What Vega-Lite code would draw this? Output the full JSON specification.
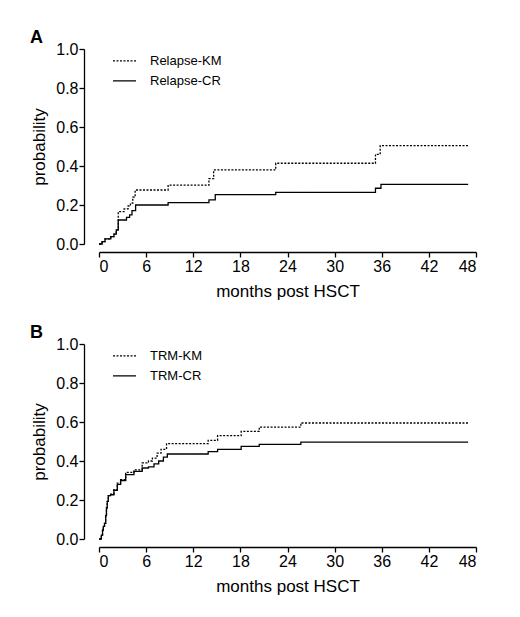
{
  "$schema": "https://vega.github.io/schema/vega-lite/v6.json",
  "background": "white",
  "padding": {"left": 30, "top": 29, "right": 5, "bottom": 5},
  "spacing": 25,
  "datasets": {
    "relapse": [
      {"month": 0, "prob": 0, "curve": "Relapse-KM"},
      {"month": 0.4, "prob": 0.012, "curve": "Relapse-KM"},
      {"month": 0.76, "prob": 0.026, "curve": "Relapse-KM"},
      {"month": 1.5, "prob": 0.038, "curve": "Relapse-KM"},
      {"month": 1.9, "prob": 0.051, "curve": "Relapse-KM"},
      {"month": 2.2, "prob": 0.072, "curve": "Relapse-KM"},
      {"month": 2.45, "prob": 0.166, "curve": "Relapse-KM"},
      {"month": 3.2, "prob": 0.18, "curve": "Relapse-KM"},
      {"month": 3.7, "prob": 0.195, "curve": "Relapse-KM"},
      {"month": 4.0, "prob": 0.21, "curve": "Relapse-KM"},
      {"month": 4.3, "prob": 0.24, "curve": "Relapse-KM"},
      {"month": 4.6, "prob": 0.277, "curve": "Relapse-KM"},
      {"month": 8.8, "prob": 0.302, "curve": "Relapse-KM"},
      {"month": 14.0, "prob": 0.335, "curve": "Relapse-KM"},
      {"month": 14.6, "prob": 0.38, "curve": "Relapse-KM"},
      {"month": 22.5, "prob": 0.414, "curve": "Relapse-KM"},
      {"month": 35.2, "prob": 0.46, "curve": "Relapse-KM"},
      {"month": 35.8, "prob": 0.505, "curve": "Relapse-KM"},
      {"month": 47, "prob": 0.505, "curve": "Relapse-KM"},
      {"month": 0, "prob": 0, "curve": "Relapse-CR"},
      {"month": 0.4, "prob": 0.012, "curve": "Relapse-CR"},
      {"month": 0.76, "prob": 0.026, "curve": "Relapse-CR"},
      {"month": 1.5, "prob": 0.038, "curve": "Relapse-CR"},
      {"month": 1.9, "prob": 0.051, "curve": "Relapse-CR"},
      {"month": 2.2, "prob": 0.072, "curve": "Relapse-CR"},
      {"month": 2.45, "prob": 0.123, "curve": "Relapse-CR"},
      {"month": 3.5, "prob": 0.137, "curve": "Relapse-CR"},
      {"month": 3.9, "prob": 0.149, "curve": "Relapse-CR"},
      {"month": 4.2, "prob": 0.171, "curve": "Relapse-CR"},
      {"month": 4.66, "prob": 0.2, "curve": "Relapse-CR"},
      {"month": 8.8, "prob": 0.212, "curve": "Relapse-CR"},
      {"month": 14.0, "prob": 0.226, "curve": "Relapse-CR"},
      {"month": 14.8, "prob": 0.253, "curve": "Relapse-CR"},
      {"month": 22.5, "prob": 0.265, "curve": "Relapse-CR"},
      {"month": 35.2, "prob": 0.286, "curve": "Relapse-CR"},
      {"month": 35.9, "prob": 0.306, "curve": "Relapse-CR"},
      {"month": 47, "prob": 0.306, "curve": "Relapse-CR"}
    ],
    "trm": [
      {"month": 0, "prob": 0, "curve": "TRM-KM"},
      {"month": 0.3, "prob": 0.02, "curve": "TRM-KM"},
      {"month": 0.45, "prob": 0.045, "curve": "TRM-KM"},
      {"month": 0.55, "prob": 0.065, "curve": "TRM-KM"},
      {"month": 0.7, "prob": 0.08, "curve": "TRM-KM"},
      {"month": 0.85, "prob": 0.12, "curve": "TRM-KM"},
      {"month": 0.95, "prob": 0.16, "curve": "TRM-KM"},
      {"month": 1.05, "prob": 0.193, "curve": "TRM-KM"},
      {"month": 1.18, "prob": 0.222, "curve": "TRM-KM"},
      {"month": 1.48, "prob": 0.23, "curve": "TRM-KM"},
      {"month": 1.9, "prob": 0.253, "curve": "TRM-KM"},
      {"month": 2.33, "prob": 0.287, "curve": "TRM-KM"},
      {"month": 2.75, "prob": 0.304, "curve": "TRM-KM"},
      {"month": 3.4, "prob": 0.342, "curve": "TRM-KM"},
      {"month": 4.45, "prob": 0.355, "curve": "TRM-KM"},
      {"month": 5.5, "prob": 0.39, "curve": "TRM-KM"},
      {"month": 6.3, "prob": 0.4, "curve": "TRM-KM"},
      {"month": 6.8, "prob": 0.415, "curve": "TRM-KM"},
      {"month": 7.4, "prob": 0.44, "curve": "TRM-KM"},
      {"month": 7.9, "prob": 0.46, "curve": "TRM-KM"},
      {"month": 8.6, "prob": 0.489, "curve": "TRM-KM"},
      {"month": 13.9, "prob": 0.506, "curve": "TRM-KM"},
      {"month": 15.1, "prob": 0.53, "curve": "TRM-KM"},
      {"month": 18.1, "prob": 0.552, "curve": "TRM-KM"},
      {"month": 20.4, "prob": 0.574, "curve": "TRM-KM"},
      {"month": 25.7, "prob": 0.595, "curve": "TRM-KM"},
      {"month": 47, "prob": 0.595, "curve": "TRM-KM"},
      {"month": 0, "prob": 0, "curve": "TRM-CR"},
      {"month": 0.3, "prob": 0.02, "curve": "TRM-CR"},
      {"month": 0.45, "prob": 0.045, "curve": "TRM-CR"},
      {"month": 0.55, "prob": 0.065, "curve": "TRM-CR"},
      {"month": 0.7, "prob": 0.08, "curve": "TRM-CR"},
      {"month": 0.85, "prob": 0.12, "curve": "TRM-CR"},
      {"month": 0.95, "prob": 0.16, "curve": "TRM-CR"},
      {"month": 1.05, "prob": 0.193, "curve": "TRM-CR"},
      {"month": 1.18, "prob": 0.222, "curve": "TRM-CR"},
      {"month": 1.48, "prob": 0.227, "curve": "TRM-CR"},
      {"month": 1.9, "prob": 0.25, "curve": "TRM-CR"},
      {"month": 2.33, "prob": 0.28, "curve": "TRM-CR"},
      {"month": 2.75, "prob": 0.3, "curve": "TRM-CR"},
      {"month": 3.4, "prob": 0.33, "curve": "TRM-CR"},
      {"month": 4.45, "prob": 0.347, "curve": "TRM-CR"},
      {"month": 5.5, "prob": 0.364, "curve": "TRM-CR"},
      {"month": 6.3, "prob": 0.37, "curve": "TRM-CR"},
      {"month": 7.0, "prob": 0.385, "curve": "TRM-CR"},
      {"month": 7.6, "prob": 0.4, "curve": "TRM-CR"},
      {"month": 8.2, "prob": 0.42, "curve": "TRM-CR"},
      {"month": 8.7, "prob": 0.436, "curve": "TRM-CR"},
      {"month": 13.9, "prob": 0.448, "curve": "TRM-CR"},
      {"month": 15.1, "prob": 0.46, "curve": "TRM-CR"},
      {"month": 18.1, "prob": 0.475, "curve": "TRM-CR"},
      {"month": 20.4, "prob": 0.485, "curve": "TRM-CR"},
      {"month": 25.7, "prob": 0.497, "curve": "TRM-CR"},
      {"month": 47, "prob": 0.497, "curve": "TRM-CR"}
    ]
  },
  "config": {
    "font": "Liberation Sans",
    "view": {"stroke": null},
    "axis": {
      "grid": false,
      "domainColor": "black",
      "domainWidth": 1.3,
      "tickColor": "black",
      "tickWidth": 1.3,
      "tickSize": 5,
      "labelColor": "black",
      "labelFontSize": 16,
      "labelFont": "Liberation Sans",
      "titleColor": "black",
      "titleFontSize": 17,
      "titleFont": "Liberation Sans",
      "titleFontWeight": "normal"
    },
    "legend": {
      "orient": "none",
      "legendX": 13,
      "legendY": -0.6,
      "title": null,
      "padding": 0,
      "symbolType": "stroke",
      "symbolSize": 529,
      "symbolStrokeWidth": 1.3,
      "symbolStrokeColor": "black",
      "labelFontSize": 13,
      "labelFont": "Liberation Sans",
      "labelColor": "black",
      "labelOffset": 13,
      "rowPadding": -10.5
    },
    "title": {
      "anchor": "start",
      "frame": "group",
      "fontSize": 18,
      "fontWeight": "bold",
      "font": "Liberation Sans",
      "color": "black",
      "dx": -69,
      "offset": -6
    }
  },
  "vconcat": [
    {
      "title": {"text": "A"},
      "width": 377,
      "height": 195,
      "data": {"name": "relapse"},
      "mark": {"type": "line", "interpolate": "step-after", "color": "black", "strokeWidth": 1.3},
      "encoding": {
        "x": {"field": "month", "type": "quantitative", "title": "months post HSCT",
              "scale": {"domain": [0, 48], "nice": false},
              "axis": {"values": [0, 6, 12, 18, 24, 30, 36, 42, 48], "offset": 8, "labelPadding": 1, "titlePadding": 9}},
        "y": {"field": "prob", "type": "quantitative", "title": "probability",
              "scale": {"domain": [0, 1], "nice": false},
              "axis": {"values": [0, 0.2, 0.4, 0.6, 0.8, 1.0], "format": ".1f", "offset": 15, "labelPadding": 1, "titlePadding": 7}},
        "strokeDash": {"field": "curve", "type": "nominal",
              "scale": {"domain": ["Relapse-KM", "Relapse-CR"], "range": [[2, 1.5], [1, 0]]}}
      }
    },
    {
      "title": {"text": "B"},
      "width": 377,
      "height": 195,
      "data": {"name": "trm"},
      "mark": {"type": "line", "interpolate": "step-after", "color": "black", "strokeWidth": 1.3},
      "encoding": {
        "x": {"field": "month", "type": "quantitative", "title": "months post HSCT",
              "scale": {"domain": [0, 48], "nice": false},
              "axis": {"values": [0, 6, 12, 18, 24, 30, 36, 42, 48], "offset": 8, "labelPadding": 1, "titlePadding": 9}},
        "y": {"field": "prob", "type": "quantitative", "title": "probability",
              "scale": {"domain": [0, 1], "nice": false},
              "axis": {"values": [0, 0.2, 0.4, 0.6, 0.8, 1.0], "format": ".1f", "offset": 15, "labelPadding": 1, "titlePadding": 7}},
        "strokeDash": {"field": "curve", "type": "nominal",
              "scale": {"domain": ["TRM-KM", "TRM-CR"], "range": [[2, 1.5], [1, 0]]}}
      }
    }
  ],
  "resolve": {"scale": {"strokeDash": "independent"}, "legend": {"strokeDash": "independent"}}
}
